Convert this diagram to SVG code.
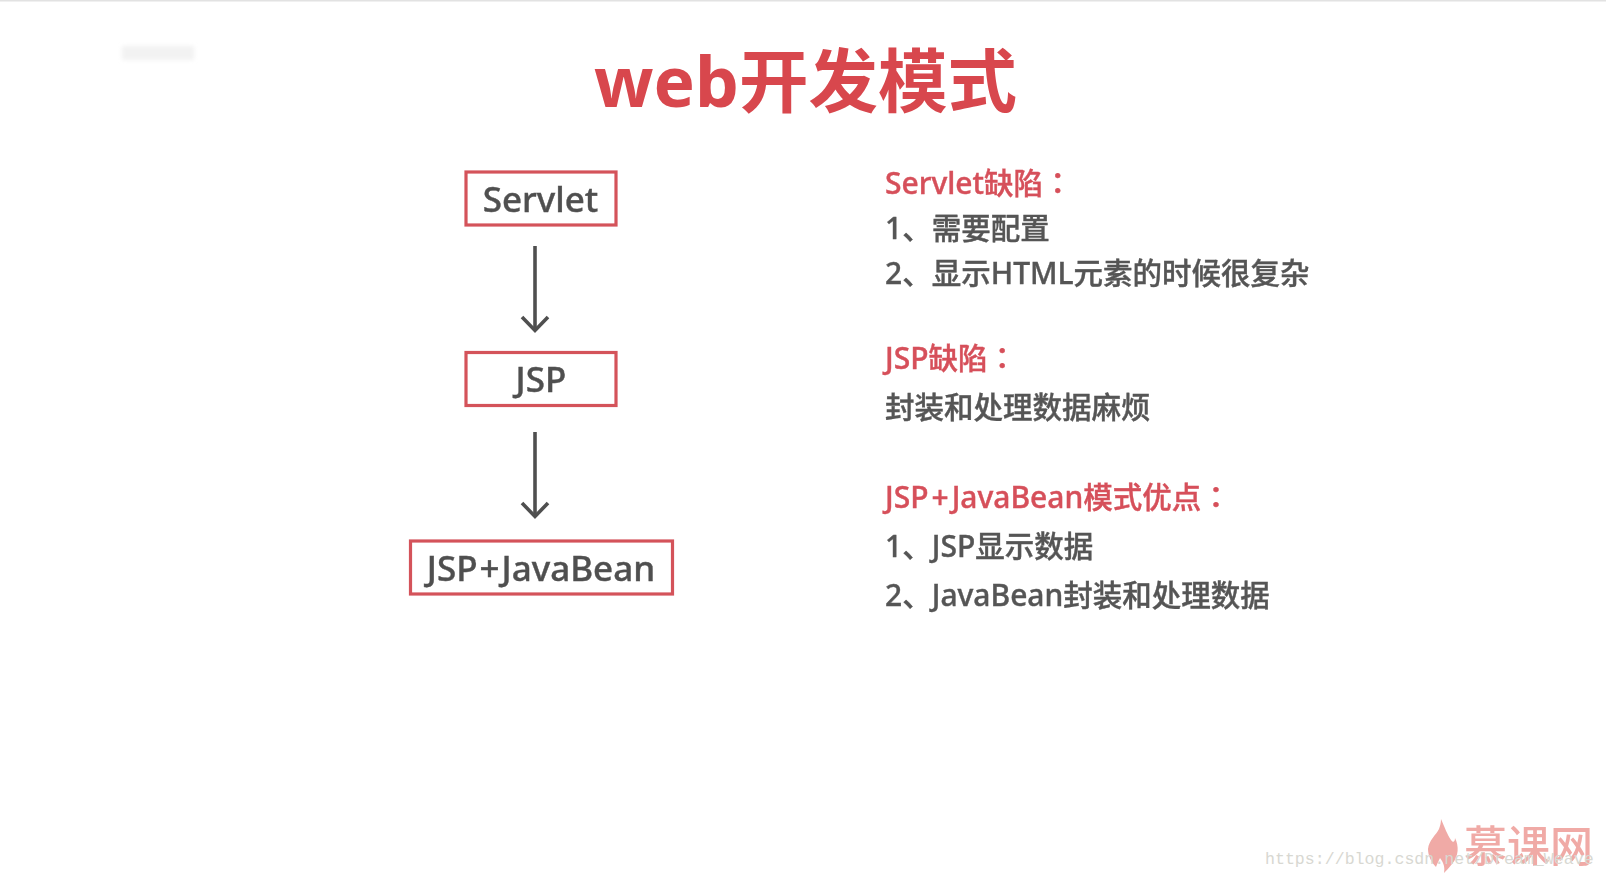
<svg xmlns="http://www.w3.org/2000/svg" width="1606" height="879" viewBox="0 0 1606 879">
<style>
text{font-family:"Noto Sans","Noto Sans CJK SC",sans-serif}
.box{fill:#fff;stroke:#d4525a;stroke-width:3.2}
.n{font-size:35px;fill:#505050;text-anchor:middle;font-weight:500;stroke:#505050;stroke-width:.4}
.h{font-size:29.5px;fill:#d6505a;font-weight:500;stroke:#d6505a;stroke-width:.4}
.b{font-size:29.5px;fill:#555;font-weight:500;stroke:#555;stroke-width:.4}
.l{font-size:30px}
.c{font-family:"Noto Sans CJK TC",sans-serif}
.a{fill:none;stroke:#505050;stroke-width:3.6}
</style>
<defs>
<filter id="s" x="-5%" y="-5%" width="110%" height="110%"><feGaussianBlur stdDeviation="0.7"/></filter>
<filter id="m" x="-20%" y="-50%" width="140%" height="200%"><feGaussianBlur stdDeviation="2"/></filter>
<marker id="ah" markerUnits="userSpaceOnUse" markerWidth="30" markerHeight="20" refX="14" refY="15" orient="0" overflow="visible"><path d="M1 1L14 14.5L27 1" fill="none" stroke="#505050" stroke-width="3.6"/></marker>
</defs>
<rect width="1606" height="879" fill="#fff"/>
<rect width="1606" height="1.500" fill="#e2e2e2"/>
<rect id="smudge" x="122" y="46" width="72" height="14" fill="#f2f2f2" filter="url(#m)"/>
<g filter="url(#s)">
<text id="title" x="594" y="107" font-size="69.500" font-weight="700" fill="#d8474e">web开发模式</text>
<g id="connectors">
<path class="a" d="M535 246V331" marker-end="url(#ah)"/>
<path class="a" d="M535 432V517" marker-end="url(#ah)"/>
</g>
<g id="node-servlet"><rect class="box" x="466" y="172" width="150" height="53"/><text class="n" x="540.500" y="212">Servlet</text></g>
<g id="node-jsp"><rect class="box" x="466" y="352.500" width="150" height="53"/><text class="n" x="541" y="392">JSP</text></g>
<g id="node-jspbean"><rect class="box" x="410.500" y="541" width="262" height="53"/><text class="n" x="541" y="581">JSP<tspan dx="2">+</tspan><tspan dx="2">JavaBean</tspan></text></g>
<g id="notes">
<text class="h" x="885" y="194"><tspan class="l">Servlet</tspan>缺陷<tspan class="c">：</tspan></text>
<text class="b" x="885" y="239"><tspan class="l">1</tspan>、需要配置</text>
<text class="b" x="885" y="284"><tspan class="l">2</tspan>、显示<tspan class="l">HTML</tspan>元素的时候很复杂</text>
<text class="h" x="885" y="369"><tspan class="l">JSP</tspan>缺陷<tspan class="c">：</tspan></text>
<text class="b" x="885" y="418">封装和处理数据麻烦</text>
<text class="h" x="885" y="508"><tspan class="l">JSP</tspan><tspan class="l" dx="3">+</tspan><tspan class="l" dx="3">JavaBean</tspan>模式优点<tspan class="c">：</tspan></text>
<text class="b" x="885" y="557"><tspan class="l">1</tspan>、<tspan class="l">JSP</tspan>显示数据</text>
<text class="b" x="885" y="606"><tspan class="l">2</tspan>、<tspan class="l">JavaBean</tspan>封装和处理数据</text>
</g>
<g id="logo" fill="#f0aaa6">
<path d="M1441 819C1445 828 1447 834 1451 840C1453 843 1455 842 1455 838C1459 846 1459 856 1452 864C1449 868 1446 871 1444 873C1445 868 1444 863 1440 858C1438 862 1437 864 1436 867C1431 862 1428 855 1428 849C1429 840 1436 835 1439 829C1440 826 1441 823 1441 819Z"/>
<text x="1464" y="862" font-size="43" font-weight="500">慕课网</text>
</g>
</g>
<text id="watermark" x="1265" y="864" font-size="16.600" fill="#d8d8d2" style="font-family:'Liberation Mono',monospace">https://blog.csdn.net/Dream_Weave</text>
</svg>
